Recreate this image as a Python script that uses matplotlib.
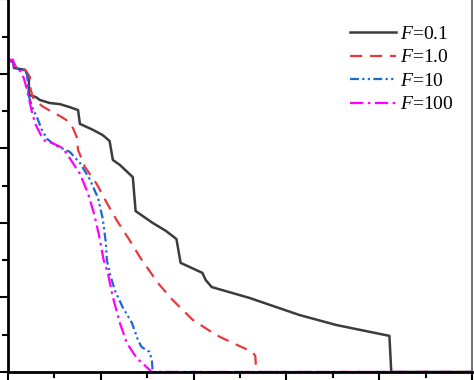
import matplotlib
matplotlib.use("Agg")
import matplotlib.pyplot as plt
from matplotlib.ticker import MultipleLocator

plt.rcParams['font.family'] = ['Liberation Serif', 'DejaVu Serif']
plt.rcParams['mathtext.fontset'] = 'custom'
plt.rcParams['mathtext.rm'] = 'Liberation Serif'
plt.rcParams['mathtext.it'] = 'Liberation Serif:italic'

# curves (x, y)
x_01 = [0, 1.1, 1.3, 3.7, 4.1, 4.5, 4.5, 6.0, 6.9, 9.0, 11.2, 13.3, 15.1, 15.5, 18.3, 20.4,
        21.9, 22.6, 24.1, 26.9, 27.5, 31.2, 34.0, 36.3, 37.2, 41.9, 42.6, 43.9, 52.0, 62.8,
        70.8, 82.2, 82.6, 100]
y_01 = [0.838, 0.832, 0.816, 0.811, 0.800, 0.789, 0.744, 0.738, 0.730, 0.722, 0.719, 0.711,
        0.703, 0.666, 0.650, 0.636, 0.620, 0.569, 0.556, 0.523, 0.432, 0.400, 0.379, 0.357,
        0.293, 0.266, 0.247, 0.228, 0.199, 0.153, 0.126, 0.097, 0, 0]

x_1 = [0, 1.1, 1.9, 3.7, 4.3, 4.7, 4.9, 5.4, 7.3, 9.5, 11.2, 12.5, 14.0, 14.8, 15.1, 16.6,
       19.1, 21.3, 23.4, 26.2, 28.4, 32.3, 35.5, 39.8, 44.9, 48.4, 52.7, 53.3, 53.5, 100]
y_1 = [0.838, 0.832, 0.816, 0.811, 0.800, 0.792, 0.757, 0.736, 0.714, 0.698, 0.687, 0.677,
       0.655, 0.631, 0.596, 0.550, 0.505, 0.454, 0.408, 0.354, 0.309, 0.239, 0.193, 0.140,
       0.099, 0.078, 0.054, 0.043, 0, 0]

x_10 = [0, 1.1, 1.9, 3.7, 4.1, 4.5, 5.2, 6.2, 7.3, 8.4, 10.1, 13.3, 15.5, 17.6, 19.4, 20.4,
        21.1, 21.3, 21.9, 23.0, 24.7, 26.7, 28.0, 28.8, 30.5, 31.0, 31.2, 100]
y_10 = [0.838, 0.832, 0.816, 0.808, 0.800, 0.741, 0.711, 0.685, 0.650, 0.626, 0.609, 0.591,
        0.561, 0.518, 0.467, 0.413, 0.346, 0.301, 0.266, 0.220, 0.174, 0.132, 0.086, 0.067,
        0.054, 0.032, 0, 0]

x_100 = [0, 1.1, 1.3, 2.6, 3.4, 4.1, 5.2, 6.0, 7.3, 8.2, 9.5, 11.8, 13.3, 15.5, 17.2, 18.5,
         19.6, 20.2, 20.6, 21.5, 22.6, 24.1, 25.6, 27.7, 29.9, 31.0, 100]
y_100 = [0.838, 0.838, 0.821, 0.808, 0.789, 0.757, 0.695, 0.663, 0.631, 0.617, 0.615, 0.601,
         0.574, 0.532, 0.481, 0.427, 0.368, 0.328, 0.301, 0.266, 0.201, 0.132, 0.078, 0.038,
         0.013, 0, 0]

labels = [r'$F$=0.1', r'$F$=1.0', r'$F$=10', r'$F$=100']

fig = plt.figure(figsize=(4.74, 3.80), dpi=100)
ax = fig.add_axes([8 / 474, 8 / 380, 464 / 474, 380 / 380])

ax.plot(x_01, y_01, color='#3c3c3c', lw=1.8, ls='-', label=labels[0])
ax.plot(x_1, y_1, color='#e8383d', lw=1.6, ls=(0, (5.5, 3.5)), label=labels[1])
ax.plot(x_10, y_10, color='#1f66d8', lw=1.6, ls=(0, (4, 1.5, 1, 1.5, 1, 1.5)), label=labels[2])
ax.plot(x_100, y_100, color='#ff00ff', lw=1.6, ls=(0, (6, 2, 1.2, 2)), label=labels[3])

ax.set_xlim(0, 100)
ax.set_ylim(0, 1.02)
ax.xaxis.set_major_locator(MultipleLocator(20))
ax.xaxis.set_minor_locator(MultipleLocator(10))
ax.yaxis.set_major_locator(MultipleLocator(0.2))
ax.yaxis.set_minor_locator(MultipleLocator(0.1))
ax.tick_params(which='major', direction='out', length=8, width=1.5,
               labelleft=False, labelbottom=False)
ax.tick_params(which='minor', direction='out', length=4, width=1.5)
ax.spines['left'].set_linewidth(2)
ax.spines['bottom'].set_linewidth(2)
ax.spines['right'].set_linewidth(1.5)
ax.spines['right'].set_color('#777777')
ax.spines['top'].set_visible(False)

ax.legend(loc='upper left', bbox_to_anchor=((350 - 8) / 464, 0.912), frameon=False,
          fontsize=14, handlelength=2.35, handletextpad=0.2, labelspacing=0.3,
          borderpad=0, borderaxespad=0)

fig.savefig('out.png', dpi=100)
